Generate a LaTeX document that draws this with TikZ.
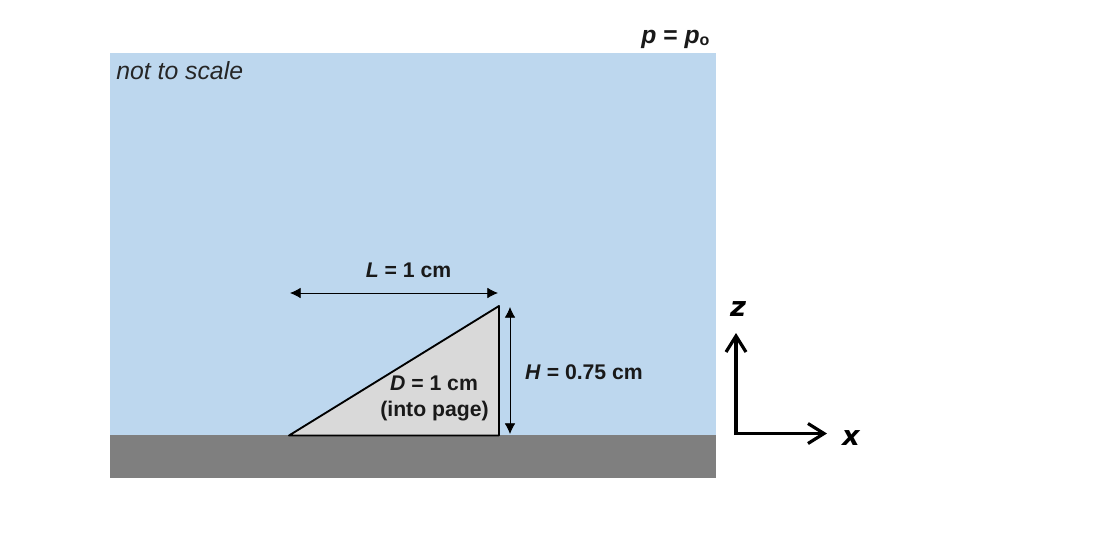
\documentclass[tikz,border=0pt]{standalone}
\usepackage{fontspec}
\setmainfont{Liberation Sans}
\newfontfamily\axisfont{DejaVu Sans}
\usetikzlibrary{arrows.meta}
\definecolor{water}{HTML}{BDD7EE}
\definecolor{ground}{HTML}{7F7F7F}
\definecolor{wedge}{HTML}{D9D9D9}
\tikzset{
  lbl/.style={font=\bfseries\fontsize{15.9}{20}\selectfont,inner sep=0pt,text=black!90},
  big/.style={font=\axisfont\bfseries\itshape\fontsize{20.5}{26}\selectfont,inner sep=0pt},
  dim/.style={line width=0.6pt,{Latex[length=8pt,width=8pt]}-{Latex[length=8pt,width=8pt]}},
  axis/.style={line width=2.4pt,-{Straight Barb[length=12pt,width=15pt,line width=2.4pt]}}
}
\begin{document}
\begin{tikzpicture}[x=0.75pt,y=-0.75pt]
\useasboundingbox (0,0) rectangle (1120,540);
\fill[white] (0,0) rectangle (1120,540);
\fill[water] (110,53) rectangle (716,435);
\fill[ground] (110,435) rectangle (716,478);
\coordinate (A) at (289,435.5);
\coordinate (B) at (499,435.5);
\coordinate (C) at (499,306);
\draw[fill=wedge,line width=1.4pt,line join=round] (A) -- (B) -- (C) -- cycle;
\coordinate (LA) at (290,293);
\coordinate (LB) at (498,293);
\draw[dim] (LA) -- (LB);
\coordinate (HA) at (510,307);
\coordinate (HB) at (510,434);
\draw[dim] (HA) -- (HB);
\coordinate (O) at (736,433.5);
\coordinate (Z) at (736,333);
\coordinate (X) at (827,433.5);
\draw[axis,shorten <=-1.2pt] (O) -- (Z);
\draw[axis] (O) -- (X);
\node[inner sep=0pt,anchor=base west,font=\itshape\fontsize{18.6}{20}\selectfont,text=black!85] (note) at (116,79) {not to scale};
\node[lbl,anchor=base,font=\bfseries\fontsize{18.5}{20}\selectfont] (pl) at (675.5,43) {\textit{p} = \textit{p}\raisebox{-0.12em}{\fontsize{12}{12}\selectfont o}};
\node[lbl,anchor=base] (ll) at (408.5,277) {\textit{L} = 1 cm};
\node[lbl,anchor=base] (hl) at (584,379) {\textit{H} = 0.75 cm};
\node[lbl,anchor=base] (dl) at (434,390) {\textit{D} = 1 cm};
\node[lbl,anchor=base] (il) at (434.5,416) {(into page)};
\node[big,anchor=base] (zl) at (738,316) {z};
\node[big,anchor=base] (xl) at (851,445) {x};
\end{tikzpicture}
\end{document}
